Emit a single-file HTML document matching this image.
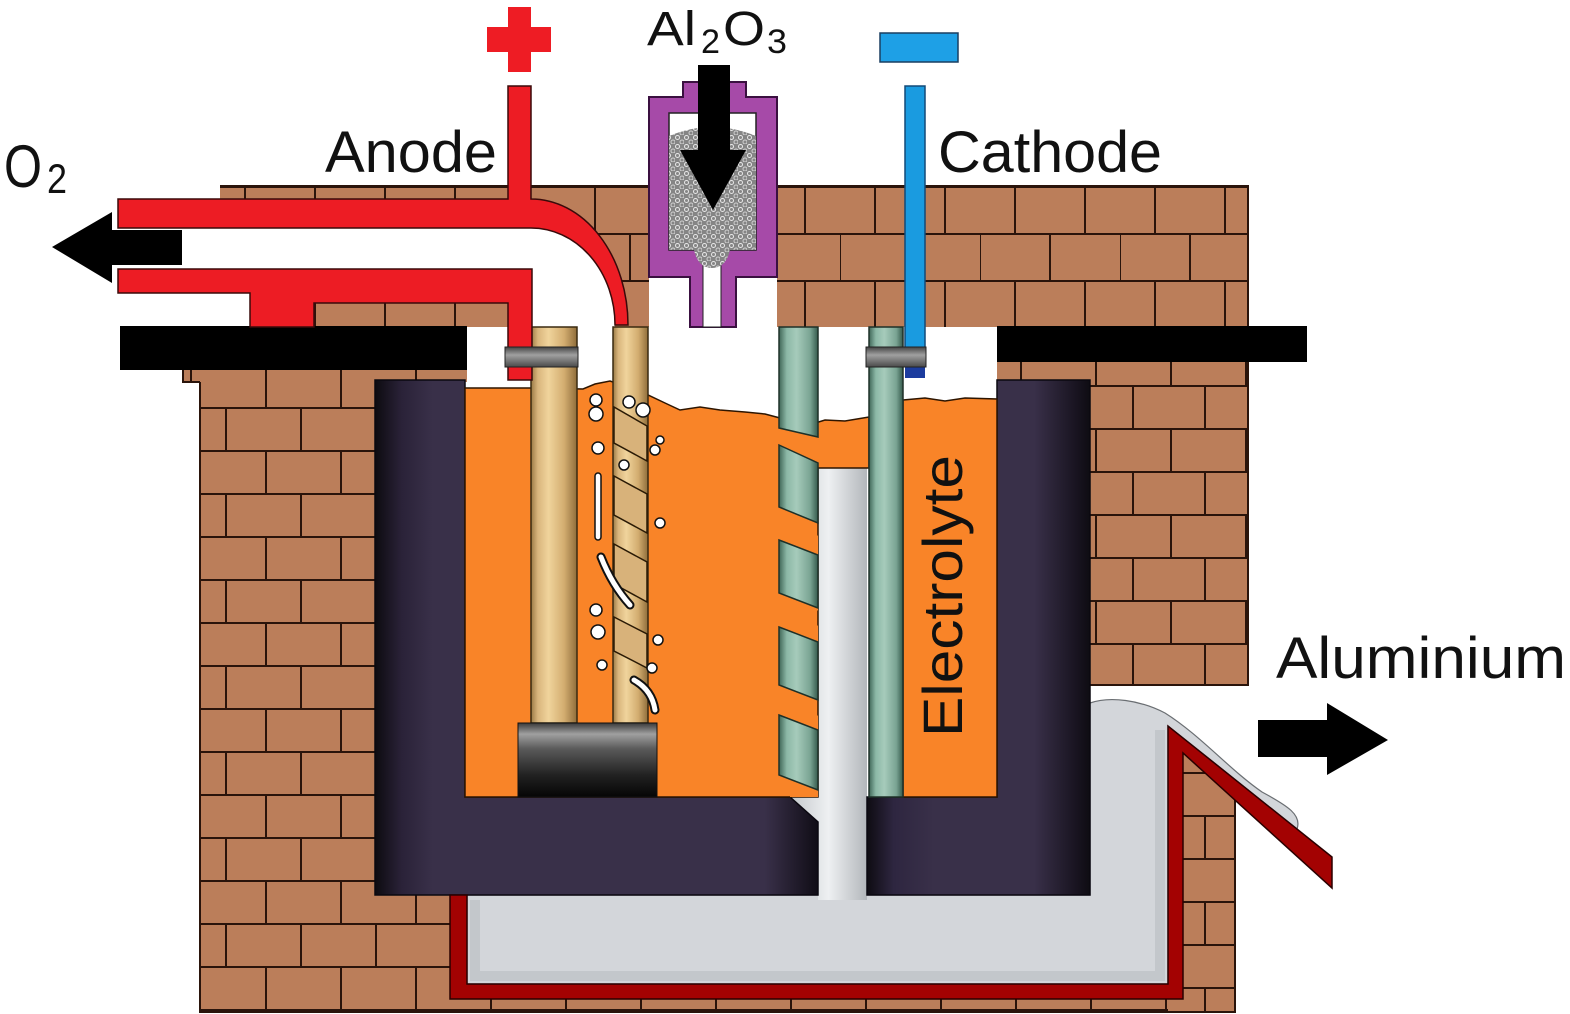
<!DOCTYPE html>
<html><head><meta charset="utf-8">
<style>
html,body{margin:0;padding:0;background:#fff;width:1570px;height:1014px;overflow:hidden;}
svg{display:block;}
text{font-family:"Liberation Sans",Arial,sans-serif;fill:#111;}
</style></head><body>
<svg width="1570" height="1014" viewBox="0 0 1570 1014" xmlns="http://www.w3.org/2000/svg">
<defs>
 <pattern id="bU" patternUnits="userSpaceOnUse" x="0" y="186" width="140" height="94">
   <rect width="140" height="94" fill="#bb7e5a"/>
   <path d="M0 1H140M0 48H140M35 1V48M105 1V48M0 48V94M70 48V94" stroke="#2a140b" stroke-width="2" fill="none"/>
 </pattern>
 <pattern id="bL" patternUnits="userSpaceOnUse" x="0" y="364" width="150" height="86">
   <rect width="150" height="86" fill="#bb7e5a"/>
   <path d="M0 1H150M0 44H150M41 1V44M116 1V44M1 44V86M76 44V86" stroke="#2a140b" stroke-width="2" fill="none"/>
 </pattern>
 <pattern id="bR" patternUnits="userSpaceOnUse" x="0" y="385" width="150" height="86">
   <rect width="150" height="86" fill="#bb7e5a"/>
   <path d="M0 1H150M0 44H150M5 1V44M83 1V44M46 44V86M121 44V86" stroke="#2a140b" stroke-width="2" fill="none"/>
 </pattern>
 <pattern id="gran" patternUnits="userSpaceOnUse" width="9" height="9">
   <rect width="9" height="9" fill="#858585"/>
   <circle cx="2.5" cy="2.5" r="2" fill="none" stroke="#e8e8e8" stroke-width="1"/>
   <circle cx="7" cy="7" r="2" fill="none" stroke="#cfcfcf" stroke-width="1"/>
 </pattern>
 <linearGradient id="tan" x1="0" x2="1" y1="0" y2="0">
   <stop offset="0" stop-color="#9b7a45"/><stop offset="0.15" stop-color="#d9b57c"/>
   <stop offset="0.38" stop-color="#f0d49c"/><stop offset="0.72" stop-color="#d3ad70"/>
   <stop offset="1" stop-color="#8f6d3a"/>
 </linearGradient>
 <linearGradient id="grn" x1="0" x2="1" y1="0" y2="0">
   <stop offset="0" stop-color="#3f6657"/><stop offset="0.2" stop-color="#8cb8a6"/>
   <stop offset="0.45" stop-color="#a6cbbb"/><stop offset="0.8" stop-color="#7aa493"/>
   <stop offset="1" stop-color="#355a4c"/>
 </linearGradient>
 <linearGradient id="clamp" x1="0" x2="0" y1="0" y2="1">
   <stop offset="0" stop-color="#444"/><stop offset="0.4" stop-color="#a0a0a0"/>
   <stop offset="1" stop-color="#4a4a4a"/>
 </linearGradient>
 <linearGradient id="blk" x1="0" x2="0" y1="0" y2="1">
   <stop offset="0" stop-color="#3a3a3a"/><stop offset="0.15" stop-color="#a0a0a0"/>
   <stop offset="0.35" stop-color="#5a5a5a"/><stop offset="0.7" stop-color="#222"/>
   <stop offset="1" stop-color="#050505"/>
 </linearGradient>
 <linearGradient id="cl" gradientUnits="userSpaceOnUse" x1="375" x2="818" y1="0" y2="0">
   <stop offset="0" stop-color="#0d0b10"/><stop offset="0.06" stop-color="#2a2238"/>
   <stop offset="0.13" stop-color="#393049"/><stop offset="0.88" stop-color="#393049"/>
   <stop offset="1" stop-color="#100d16"/>
 </linearGradient>
 <linearGradient id="cr" gradientUnits="userSpaceOnUse" x1="867" x2="1090" y1="0" y2="0">
   <stop offset="0" stop-color="#0e0c12"/><stop offset="0.12" stop-color="#2e2640"/>
   <stop offset="0.3" stop-color="#393049"/><stop offset="0.75" stop-color="#393049"/>
   <stop offset="0.93" stop-color="#1a1522"/><stop offset="1" stop-color="#0e0c12"/>
 </linearGradient>
 <linearGradient id="chan" x1="0" x2="1" y1="0" y2="0">
   <stop offset="0" stop-color="#c4c8cc"/><stop offset="0.5" stop-color="#eef0f2"/>
   <stop offset="1" stop-color="#b3b7bb"/>
 </linearGradient>
</defs>

<!-- bricks -->
<rect x="220" y="186" width="1028" height="141" fill="url(#bU)"/>
<rect x="183" y="370" width="284" height="12" fill="url(#bL)"/>
<rect x="200" y="370" width="175" height="642" fill="url(#bL)"/>
<rect x="375" y="890" width="80" height="122" fill="url(#bL)"/>
<rect x="200" y="995" width="1035" height="17" fill="url(#bL)"/>
<path d="M1168 726L1235 780V1012H1168Z" fill="url(#bR)"/>
<rect x="997" y="360" width="251" height="325" fill="url(#bR)"/>
<path d="M220 186H1248V327M1248 362V685H1090M200 382V1012H1235V790M183 370V382H200" fill="none" stroke="#2a140b" stroke-width="2"/>

<!-- white openings -->
<path d="M220 228H531A84 97 0 0 1 615 325V327H531V269H220Z" fill="#fff"/>
<rect x="220" y="292" width="32" height="36" fill="#fff"/>
<rect x="649" y="268" width="128" height="60" fill="#fff"/>
<rect x="467" y="327" width="530" height="80" fill="#fff"/>

<!-- aluminium pool -->
<path d="M1090 703C1110 696 1140 700 1165 713C1200 735 1230 770 1262 792C1288 806 1302 815 1297 829L1168 726V984H467V895H1090Z" fill="#d3d6da" stroke="#6a6e72" stroke-width="1.2"/>
<path d="M475 900V976H1160V730" fill="none" stroke="#b9bdc1" stroke-width="10" opacity="0.6"/>
<path d="M818 468H867V900H818V822L790 797H818Z" fill="url(#chan)"/>

<!-- crucible -->
<path d="M375 380H465V797H790L818 822V895H375Z" fill="url(#cl)" stroke="#0a0810" stroke-width="1.5"/>
<path d="M867 797H997V380H1090V895H867Z" fill="url(#cr)" stroke="#0a0810" stroke-width="1.5"/>

<!-- electrolyte -->
<path d="M465 388L530 388L583 389L595 384L610 381L625 386L648 395L665 403L680 410L700 407L720 410L745 412L765 414L780 418L790 424L800 428L812 424L825 420L845 421L869 417V468H818V797H465Z" fill="#f98428" stroke="#2d1500" stroke-width="1.5"/>
<path d="M818 468V520Q810 528 818 536V610Q810 618 818 626V700Q810 708 818 716V797H790V468Z" fill="#f98428"/>
<path d="M903 400L925 398L945 401L965 398L997 399V797H903Z" fill="#f98428" stroke="#2d1500" stroke-width="1.5"/>

<!-- red trough -->
<path d="M450 895V999H1183V753L1332 888V857L1168 726V984H467V895Z" fill="#a30202" stroke="#2a0000" stroke-width="1.5"/>

<!-- anode rods -->
<rect x="531" y="327" width="46" height="396" fill="url(#tan)" stroke="#3a2a10" stroke-width="1.5"/>
<rect x="613" y="327" width="35" height="396" fill="url(#tan)" stroke="#3a2a10" stroke-width="1.5"/>
<g fill="#d8b27a" stroke="#2a1a05" stroke-width="1.5">
 <path d="M614 407L647 426V461L614 443Z"/>
 <path d="M614 476L647 494V533L614 515Z"/>
 <path d="M614 544L647 562V602L614 584Z"/>
 <path d="M614 617L647 634V668L614 651Z"/>
</g>
<rect x="518" y="723" width="139" height="74" fill="url(#blk)" stroke="#111" stroke-width="1"/>

<!-- bubbles -->
<g fill="#fff" stroke="#111" stroke-width="1.5">
 <circle cx="596" cy="400" r="6"/><circle cx="596" cy="414" r="7"/><circle cx="598" cy="448" r="6"/>
 <circle cx="629" cy="402" r="6"/><circle cx="643" cy="410" r="7"/><circle cx="655" cy="450" r="5"/>
 <circle cx="624" cy="465" r="5"/><circle cx="660" cy="523" r="5"/><circle cx="596" cy="610" r="6"/>
 <circle cx="598" cy="632" r="7"/><circle cx="658" cy="640" r="5"/><circle cx="602" cy="665" r="5"/>
 <circle cx="652" cy="668" r="5"/><circle cx="660" cy="440" r="4"/>
 <rect x="595" y="473" width="6" height="67" rx="3"/>
</g>
<path d="M601 557Q612 585 630 605M634 680Q652 690 655 710" stroke="#111" stroke-width="9" fill="none" stroke-linecap="round"/>
<path d="M601 557Q612 585 630 605M634 680Q652 690 655 710" stroke="#fff" stroke-width="5" fill="none" stroke-linecap="round"/>

<!-- separator / cathode tubes -->
<g fill="url(#grn)" stroke="#1e3028" stroke-width="1.5">
 <path d="M779 327H818V437L779 428Z"/>
 <path d="M779 445L818 463V523L779 507Z"/>
 <path d="M779 540L818 555V608L779 593Z"/>
 <path d="M779 627L818 642V700L779 685Z"/>
 <path d="M779 715L818 730V790L779 775Z"/>
 <rect x="869" y="327" width="34" height="470"/>
</g>

<!-- lid bars -->
<rect x="120" y="326" width="347" height="44" fill="#000"/>
<rect x="997" y="326" width="310" height="36" fill="#000"/>

<!-- red pipes -->
<path d="M118 199H508V86H531V199A97 126 0 0 1 628 325H615A84 97 0 0 0 531 228H118Z" fill="#ed1c24" stroke="#3a0a0a" stroke-width="1.5"/>
<path d="M118 269H532V380H508V303H314V327H250V293H118Z" fill="#ed1c24" stroke="#3a0a0a" stroke-width="1.5"/>
<path d="M508 7H531V27H551V52H531V72H508V52H487V27H508Z" fill="#ee1c24"/>
<rect x="505" y="347" width="73" height="20" fill="url(#clamp)" stroke="#222" stroke-width="1"/>

<!-- hopper -->
<path d="M683 82H746V97H777V277H736V327H690V277H649V97H683Z" fill="#a64aa8" stroke="#3a1040" stroke-width="2"/>
<rect x="669" y="113" width="87" height="137" fill="#fff" stroke="#222" stroke-width="1.5"/>
<rect x="703" y="250" width="18" height="77" fill="#fff" stroke="#222" stroke-width="1"/>
<path d="M669 136Q712 118 756 136V250H730Q726 268 712 268Q698 268 694 250H669Z" fill="url(#gran)"/>
<path d="M698 65H730V150H746L713 210L680 150H698Z" fill="#000"/>

<!-- cathode -->
<rect x="905" y="86" width="20" height="280" fill="#1a9be0" stroke="#124a78" stroke-width="1.5"/>
<rect x="905" y="366" width="20" height="12" fill="#1c3c9e"/>
<rect x="866" y="347" width="60" height="20" fill="url(#clamp)" stroke="#222" stroke-width="1"/>
<rect x="880" y="33" width="78" height="29" fill="#1ea0e6" stroke="#1a3f60" stroke-width="1.5"/>

<!-- arrows -->
<path d="M182 230V265H112V283L52 247L112 212V230Z" fill="#000"/>
<path d="M1258 720H1327V703L1388 740L1327 775V757H1258Z" fill="#000"/>

<!-- labels -->
<text x="4" y="187" font-size="60" textLength="38" lengthAdjust="spacingAndGlyphs">O</text>
<text x="47" y="193" font-size="42" textLength="20" lengthAdjust="spacingAndGlyphs">2</text>
<text x="325" y="172" font-size="58" textLength="172" lengthAdjust="spacingAndGlyphs">Anode</text>
<text x="938" y="172" font-size="58" textLength="224" lengthAdjust="spacingAndGlyphs">Cathode</text>
<text x="1276" y="678" font-size="58" textLength="290" lengthAdjust="spacingAndGlyphs">Aluminium</text>
<text x="647" y="45" font-size="48" textLength="49" lengthAdjust="spacingAndGlyphs">Al</text>
<text x="701" y="53" font-size="34" textLength="19" lengthAdjust="spacingAndGlyphs">2</text>
<text x="723" y="45" font-size="48" textLength="42" lengthAdjust="spacingAndGlyphs">O</text>
<text x="767" y="53" font-size="34" textLength="20" lengthAdjust="spacingAndGlyphs">3</text>
<text transform="translate(962,737) rotate(-90)" font-size="56" textLength="282" lengthAdjust="spacingAndGlyphs">Electrolyte</text>
</svg>
</body></html>
